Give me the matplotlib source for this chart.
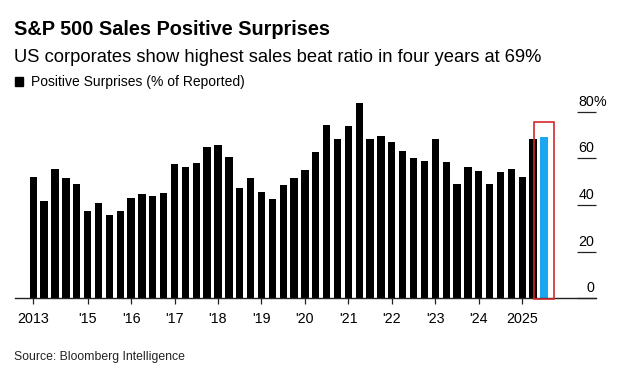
import numpy as np
import matplotlib
matplotlib.use('Agg')
import matplotlib.pyplot as plt
from matplotlib.patches import Rectangle
from matplotlib import transforms

plt.rcParams['font.family'] = ['Liberation Sans', 'DejaVu Sans']

# quarterly share of S&P 500 companies beating sales estimates, Q4 2013 .. Q3 2025
values = [52.1, 41.8, 55.3, 51.6, 48.8, 37.6, 41.0, 35.8, 37.3, 43.0, 44.7, 43.8,
          45.0, 57.6, 56.1, 57.9, 64.7, 65.8, 60.4, 47.1, 51.4, 45.6, 42.6, 48.4,
          51.4, 55.0, 62.7, 74.3, 68.1, 73.8, 83.8, 68.1, 69.7, 67.1, 63.0, 60.3,
          58.7, 68.3, 58.4, 49.1, 56.1, 54.6, 49.1, 54.0, 55.3, 51.9, 68.4, 69.3]
year_tick_idx = [0, 5, 9, 13, 17, 21, 25, 29, 33, 37, 41, 45]
year_labels = ['2013', "'15", "'16", "'17", "'18", "'19", "'20", "'21", "'22", "'23", "'24", '2025']
y_ticks = [0, 20, 40, 60, 80]

black = '#000000'
blue = '#1ba6f2'
red = '#d42a2a'

fig = plt.figure(figsize=(6.23, 3.79), dpi=100)
ax = fig.add_axes([0.0241, 0.2129, 0.9321, 0.5232])

x = np.arange(len(values))
colors = [black] * (len(values) - 1) + [blue]
ax.bar(x, values, width=0.67, color=colors, zorder=2)

ax.set_xlim(-1.68, 51.76)
ax.set_ylim(0, 85)

# spines: only the baseline
for s in ['top', 'left', 'right']:
    ax.spines[s].set_visible(False)
ax.spines['bottom'].set_linewidth(1.0)
ax.spines['bottom'].set_color('#222222')

ax.set_xticks(year_tick_idx)
ax.set_xticklabels(year_labels, fontsize=10.3)
ax.tick_params(axis='x', length=4.5, width=0.9, color='#222222', pad=5)

# right hand y ticks drawn inward, labels sitting above
ax.yaxis.tick_right()
ax.set_yticks(y_ticks)
ax.tick_params(axis='y', direction='in', length=13.7, width=0.9, color='#222222',
               labelright=False, labelleft=False)
off = transforms.offset_copy(ax.get_yaxis_transform(), fig=fig, x=-1.5, y=10, units='dots')
for v in y_ticks:
    ax.text(1.0, v, str(v), transform=off, ha='right', va='center', fontsize=10.3)
off_pct = transforms.offset_copy(ax.get_yaxis_transform(), fig=fig, x=-2.5, y=10, units='dots')
ax.text(1.0, y_ticks[-1], '%', transform=off_pct, ha='left', va='center', fontsize=10.3)

# highlight box round the latest quarter
last = len(values) - 1
ax.add_patch(Rectangle((last - 0.95, -0.5), 1.9, 75.9, fill=False, edgecolor=red,
                       linewidth=1.2, clip_on=False, zorder=3))

# titles and legend
fig.text(0.0225, 0.9077, 'S&P 500 Sales Positive Surprises', fontsize=14.3,
         fontweight='bold', va='baseline')
fig.text(0.0225, 0.8356, 'US corporates show highest sales beat ratio in four years at 69%',
         fontsize=13.2, va='baseline')
fig.patches.append(Rectangle((0.0241, 0.773), 0.0127, 0.0245, transform=fig.transFigure,
                             color=black))
fig.text(0.0505, 0.773, 'Positive Surprises (% of Reported)', fontsize=10.0, va='baseline')
fig.text(0.0225, 0.05, 'Source: Bloomberg Intelligence', fontsize=8.8, va='baseline',
         color='#222222')

fig.savefig('out.png', dpi=100)
